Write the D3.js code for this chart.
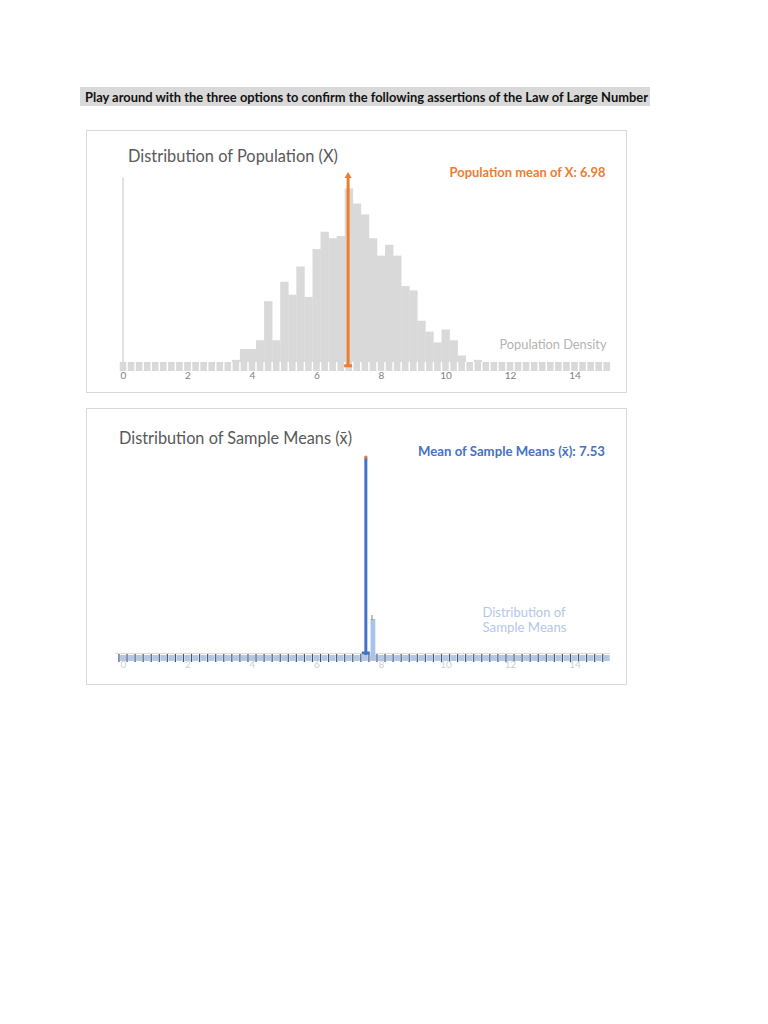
<!DOCTYPE html>
<html>
<head>
<meta charset="utf-8">
<title>Law of Large Numbers</title>
<script src="https://cdn.jsdelivr.net/npm/d3@7"></script>
<style>
  html, body { margin: 0; padding: 0; background: #fff; }
  svg { display: block; font-family: Lato, "Open Sans", sans-serif; }
</style>
</head>
<body>
<svg id="page" width="768" height="1024"></svg>
<script>
// histogram bins: centre of first bin and bin width (x units)
var binStart = 0;
var binWidth = 0.25;

// population counts per bin, centres 0, 0.25, ... 15
var popCounts = [
  0, 0, 0, 0, 0, 0, 0, 0, 0, 0, 0, 0, 0, 0,
  1, 6, 6, 10, 28, 10, 37, 31, 44, 30, 52, 60, 57, 58, 80, 73,
  68, 57, 49, 54, 49, 35, 33, 19, 14, 9, 15, 10, 3, 0, 1,
  0, 0, 0, 0, 0, 0, 0, 0, 0, 0, 0, 0, 0, 0, 0, 0
];

// sample means counts per bin (same bins)
var sampleCounts = [
  0, 0, 0, 0, 0, 0, 0, 0, 0, 0, 0, 0, 0, 0, 0, 0, 0, 0, 0, 0,
  0, 0, 0, 0, 0, 0, 0, 0, 0, 0, 0, 19, 0, 0, 0, 0, 0, 0, 0, 0,
  0, 0, 0, 0, 0, 0, 0, 0, 0, 0, 0, 0, 0, 0, 0, 0, 0, 0, 0, 0, 0
];

var xTicks = [0, 2, 4, 6, 8, 10, 12, 14];

var popMean = 6.98;
var sampleMean = 7.53;
var popMeanTop = 86.6;
var sampleMeanTop = 100;

var xbar = 'x\u0304';
var headerText = 'Play around with the three options to confirm the following assertions of the Law of Large Number';

var svg = d3.select('#page');

function bins(counts) {
  return counts.map(function(v, i) {
    return { x: binStart + i * binWidth, v: v };
  });
}

// squeeze/stretch the text so it covers a given width, keeping its height
function fit(text, w) {
  text.attr('textLength', w).attr('lengthAdjust', 'spacingAndGlyphs');
  return text;
}

var x = d3.scaleLinear().domain([0, 14]).range([123, 574.5]);

// header band
svg.append('rect')
  .attr('x', 80).attr('y', 87).attr('width', 570).attr('height', 19)
  .attr('fill', '#d9d9d9');
fit(svg.append('text')
  .attr('x', 85).attr('y', 101.5)
  .attr('font-size', 12.8).attr('font-weight', 700).attr('fill', '#111')
  .text(headerText), 563);

// ---------- population chart ----------
var g1 = svg.append('g');
g1.append('rect')
  .attr('x', 86.5).attr('y', 130.5).attr('width', 540).attr('height', 262)
  .attr('fill', '#fff').attr('stroke', '#d9d9d9');

fit(g1.append('text')
  .attr('x', 128).attr('y', 162)
  .attr('font-size', 16.5).attr('fill', '#595959')
  .text('Distribution of Population (X)'), 210);

var y1 = d3.scaleLinear().domain([0, 85]).range([362, 177.5]);

g1.append('line')
  .attr('x1', x(0)).attr('x2', x(0))
  .attr('y1', y1(85)).attr('y2', y1(0))
  .attr('stroke', '#d9d9d9').attr('stroke-width', 1.5);

var popBins = bins(popCounts);

g1.append('g').selectAll('rect')
  .data(popBins.filter(function(d) { return d.v > 0; }))
  .enter().append('rect')
  .attr('x', function(d) { return x(d.x - binWidth / 2); })
  .attr('width', function(d) { return x(d.x + binWidth / 2) - x(d.x - binWidth / 2) + 0.3; })
  .attr('y', function(d) { return y1(d.v); })
  .attr('height', function(d) { return y1(0) - y1(d.v); })
  .attr('fill', '#d9d9d9');

// square markers along the baseline
g1.append('g').selectAll('rect')
  .data(popBins)
  .enter().append('rect')
  .attr('x', function(d) { return x(d.x) - 3.3; })
  .attr('width', 6.6)
  .attr('y', y1(0))
  .attr('height', 9)
  .attr('fill', '#d9d9d9');

var ax1 = g1.append('g')
  .attr('transform', 'translate(0,369)')
  .call(d3.axisBottom(x).tickValues(xTicks).tickSize(0).tickPadding(3));
ax1.select('.domain').remove();
ax1.selectAll('text')
  .attr('font-family', 'Lato, sans-serif').attr('font-size', 10).attr('fill', '#808080');

// population mean marker
g1.append('line')
  .attr('x1', x(popMean)).attr('x2', x(popMean))
  .attr('y1', y1(popMeanTop) + 3).attr('y2', 366)
  .attr('stroke', '#ed7d31').attr('stroke-width', 3);
g1.append('path')
  .attr('d', d3.symbol().type(d3.symbolTriangle).size(22))
  .attr('transform', 'translate(' + x(popMean) + ',' + (y1(popMeanTop) + 2) + ')')
  .attr('fill', '#ed7d31');
g1.append('rect')
  .attr('x', x(popMean) - 4).attr('y', 364.3).attr('width', 8).attr('height', 3)
  .attr('fill', '#ed7d31');

fit(g1.append('text')
  .attr('x', 605.5).attr('y', 176.5).attr('text-anchor', 'end')
  .attr('font-size', 13).attr('font-weight', 700).attr('fill', '#ed7d31')
  .text('Population mean of X: ' + popMean.toFixed(2)), 156);

fit(g1.append('text')
  .attr('x', 606.5).attr('y', 349).attr('text-anchor', 'end')
  .attr('font-size', 13).attr('fill', '#b3b3b3')
  .text('Population Density'), 107);

// ---------- sample means chart ----------
var g2 = svg.append('g');
g2.append('rect')
  .attr('x', 86.5).attr('y', 408.5).attr('width', 540).attr('height', 276)
  .attr('fill', '#fff').attr('stroke', '#d9d9d9');

fit(g2.append('text')
  .attr('x', 119).attr('y', 444)
  .attr('font-size', 16.5).attr('fill', '#595959')
  .text('Distribution of Sample Means (' + xbar + ')'), 233);

var y2 = d3.scaleLinear().domain([0, 100]).range([657, 457]);
var sampleBins = bins(sampleCounts);

// axis band: thin line, light squares, dark ticks at bin edges
g2.append('line')
  .attr('x1', 115).attr('x2', 610)
  .attr('y1', 653.5).attr('y2', 653.5)
  .attr('stroke', '#d9d9d9').attr('stroke-width', 1);

g2.append('g').selectAll('rect')
  .data(sampleBins)
  .enter().append('rect')
  .attr('x', function(d) { return x(d.x) - 3; })
  .attr('width', 6)
  .attr('y', 655)
  .attr('height', 6)
  .attr('fill', '#b4c7e7');

g2.append('g').selectAll('line')
  .data(sampleBins)
  .enter().append('line')
  .attr('x1', function(d) { return x(d.x - binWidth / 2); })
  .attr('x2', function(d) { return x(d.x - binWidth / 2); })
  .attr('y1', 654).attr('y2', 662)
  .attr('stroke', '#44546a').attr('stroke-width', 1.2);

var ax2 = g2.append('g')
  .attr('transform', 'translate(0,660)')
  .call(d3.axisBottom(x).tickValues(xTicks).tickSize(0).tickPadding(1));
ax2.select('.domain').remove();
ax2.selectAll('text')
  .attr('font-family', 'Lato, sans-serif').attr('font-size', 10).attr('fill', '#d0d0d0');

g2.append('g').selectAll('rect')
  .data(sampleBins.filter(function(d) { return d.v > 0; }))
  .enter().append('rect')
  .attr('x', function(d) { return x(d.x) - 2.4; })
  .attr('width', 4.8)
  .attr('y', function(d) { return y2(d.v); })
  .attr('height', function(d) { return y2(0) - y2(d.v) + 3; })
  .attr('fill', '#a9c4eb');

g2.append('g').selectAll('line')
  .data(sampleBins.filter(function(d) { return d.v > 0; }))
  .enter().append('line')
  .attr('x1', function(d) { return x(d.x) - 1; })
  .attr('x2', function(d) { return x(d.x) - 1; })
  .attr('y1', function(d) { return y2(d.v) - 4; })
  .attr('y2', function(d) { return y2(d.v) + 1; })
  .attr('stroke', '#7f7f7f').attr('stroke-width', 1);

// sample mean marker
g2.append('line')
  .attr('x1', x(sampleMean)).attr('x2', x(sampleMean))
  .attr('y1', y2(sampleMeanTop)).attr('y2', 655)
  .attr('stroke', '#4472c4').attr('stroke-width', 3);
g2.append('rect')
  .attr('x', x(sampleMean) - 4).attr('y', 651.5).attr('width', 8).attr('height', 3)
  .attr('fill', '#4472c4');
g2.append('circle')
  .attr('cx', x(sampleMean)).attr('cy', y2(sampleMeanTop))
  .attr('r', 1.6).attr('fill', '#ed7d31');

fit(g2.append('text')
  .attr('x', 605).attr('y', 455.5).attr('text-anchor', 'end')
  .attr('font-size', 13).attr('font-weight', 700).attr('fill', '#4472c4')
  .text('Mean of Sample Means (' + xbar + '): ' + sampleMean.toFixed(2)), 187);

fit(g2.append('text')
  .attr('x', 482.5).attr('y', 616.5)
  .attr('font-size', 13).attr('fill', '#b4c7e7')
  .text('Distribution of'), 83);
fit(g2.append('text')
  .attr('x', 482.5).attr('y', 631.5)
  .attr('font-size', 13).attr('fill', '#b4c7e7')
  .text('Sample Means'), 84);
</script>
</body>
</html>
